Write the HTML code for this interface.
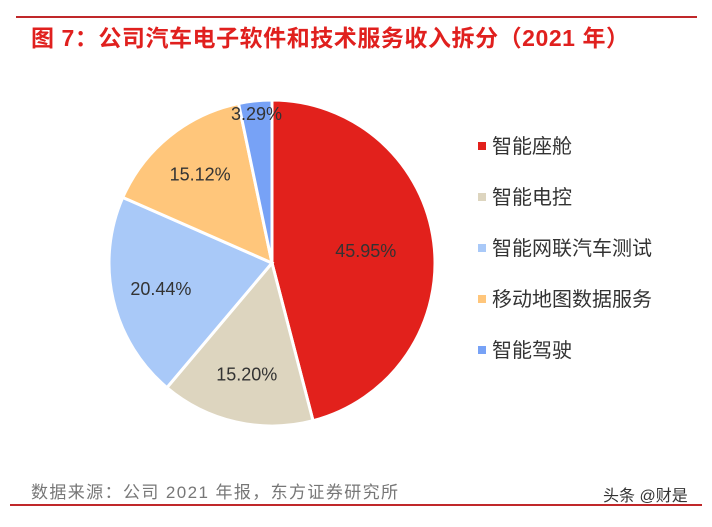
<!DOCTYPE html>
<html><head><meta charset="utf-8">
<style>
body{margin:0;width:712px;height:522px;background:#fff;overflow:hidden;font-family:"Liberation Sans","Noto Sans CJK SC",sans-serif;}
</style></head>
<body>
<svg width="712" height="522">
<line x1="16" y1="17" x2="697" y2="17" stroke="#c0282a" stroke-width="2"/>
<text x="31" y="46" font-size="23" font-weight="bold" fill="#e0201e" textLength="598" lengthAdjust="spacing" font-family="Liberation Sans, Noto Sans CJK SC, sans-serif">图 7：公司汽车电子软件和技术服务收入拆分（2021 年）</text>
<g id="pie"></g>
<g id="legend"></g>
<text x="31" y="498" font-size="17" fill="#777" textLength="367" lengthAdjust="spacing" font-family="Liberation Sans, Noto Sans CJK SC, sans-serif">数据来源：公司 2021 年报，东方证券研究所</text>
<line x1="10" y1="505" x2="702" y2="505" stroke="#c0282a" stroke-width="2"/>
<text x="603" y="501" font-size="16" fill="#333" font-family="Liberation Sans, Noto Sans CJK SC, sans-serif">头条 @财是</text>
</svg>
<script>
const categories=["智能座舱","智能电控","智能网联汽车测试","移动地图数据服务","智能驾驶"];
const values=[45.95,15.20,20.44,15.12,3.29];
const colors=["#e2211c","#ddd5bf","#a9c9f8","#ffc67b","#77a2f6"];
const ns="http://www.w3.org/2000/svg";
const cx=272,cy=263,r=163;
const total=values.reduce((a,b)=>a+b,0);
const pie=document.getElementById('pie');
let a0=0;
values.forEach((v,i)=>{
  const a1=a0+v/total*2*Math.PI;
  const p=a=>[cx+r*Math.sin(a),cy-r*Math.cos(a)];
  const [x0,y0]=p(a0),[x1,y1]=p(a1);
  const path=document.createElementNS(ns,'path');
  path.setAttribute('d',`M${cx},${cy}L${x0},${y0}A${r},${r} 0 ${a1-a0>Math.PI?1:0} 1 ${x1},${y1}Z`);
  path.setAttribute('fill',colors[i]);
  path.setAttribute('stroke','#fff');
  path.setAttribute('stroke-width','3');
  
  
  pie.appendChild(path);
  const am=(a0+a1)/2, lr=v<5?r*0.92:(v>40?r*0.58:r*0.7);
  const t=document.createElementNS(ns,'text');
  t.setAttribute('x',cx+lr*Math.sin(am));
  t.setAttribute('y',cy-lr*Math.cos(am)+6);
  t.setAttribute('text-anchor','middle');
  t.setAttribute('font-size','18');
  t.setAttribute('fill','#333');
  t.textContent=v.toFixed(2)+'%';
  
  
  pie.appendChild(t);
  a0=a1;
});
const lg=document.getElementById('legend');
categories.forEach((c,i)=>{
  const y=146+i*51;
  const s=document.createElementNS(ns,'rect');
  s.setAttribute('x',478);s.setAttribute('y',y-4);s.setAttribute('width',8);s.setAttribute('height',8);
  s.setAttribute('fill',colors[i]);
  
  
  lg.appendChild(s);
  const t=document.createElementNS(ns,'text');
  t.setAttribute('x',492);t.setAttribute('y',y+7);
  t.setAttribute('font-size','20');t.setAttribute('fill','#333');
  t.setAttribute('font-family','Liberation Sans, Noto Sans CJK SC, sans-serif');
  t.textContent=c;
  
  
  lg.appendChild(t);
});
</script>
</body></html>
